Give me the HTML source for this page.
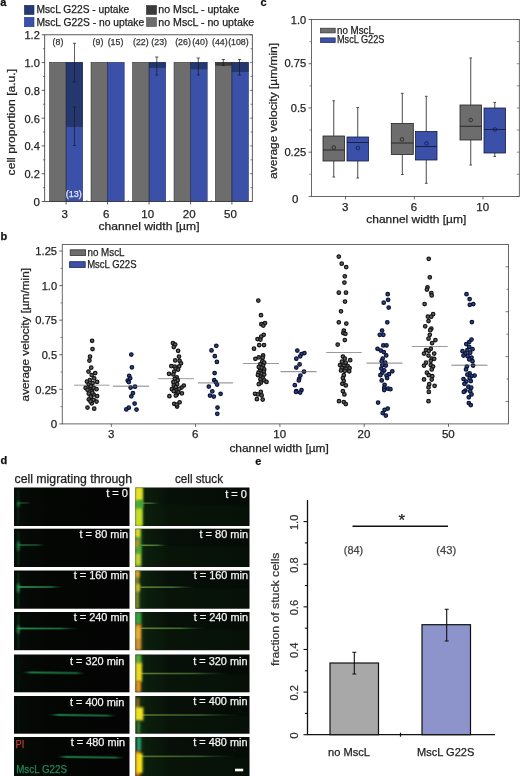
<!DOCTYPE html>
<html><head><meta charset="utf-8"><title>Figure</title>
<style>html,body{margin:0;padding:0;background:#fff;}svg{display:block;}text{font-family:"Liberation Sans",sans-serif;stroke-width:0.25px;}</style>
</head><body>
<svg width="520" height="776" viewBox="0 0 520 776">
<rect width="520" height="776" fill="#fff"/>
<defs>
<filter id="b1" x="-20%" y="-200%" width="140%" height="500%"><feGaussianBlur stdDeviation="1.2 0.7"/></filter>
<filter id="b2" x="-50%" y="-50%" width="200%" height="200%"><feGaussianBlur stdDeviation="1.3"/></filter>
<filter id="b3" x="-50%" y="-50%" width="200%" height="200%"><feGaussianBlur stdDeviation="3"/></filter>
<linearGradient id="gfade" x1="0" x2="1" y1="0" y2="0"><stop offset="0" stop-color="#2fae62"/><stop offset="0.7" stop-color="#1f7f47"/><stop offset="1" stop-color="#0c3a1e" stop-opacity="0"/></linearGradient>
<linearGradient id="gfade2" x1="0" x2="1" y1="0" y2="0"><stop offset="0" stop-color="#0c3a1e" stop-opacity="0"/><stop offset="0.15" stop-color="#27a25a"/><stop offset="0.85" stop-color="#1f8a4c"/><stop offset="1" stop-color="#0c3a1e" stop-opacity="0"/></linearGradient>
<linearGradient id="rbg" x1="0" x2="1" y1="0" y2="0"><stop offset="0" stop-color="#123012"/><stop offset="0.1" stop-color="#0b1c0c"/><stop offset="0.3" stop-color="#071008"/><stop offset="1" stop-color="#050b06"/></linearGradient>
<linearGradient id="lbg" x1="0" x2="1" y1="0" y2="0"><stop offset="0" stop-color="#060c07"/><stop offset="0.3" stop-color="#040604"/><stop offset="1" stop-color="#030403"/></linearGradient>
<linearGradient id="rfade" x1="0" x2="1" y1="0" y2="0"><stop offset="0" stop-color="#9ab848"/><stop offset="0.6" stop-color="#5a9a48"/><stop offset="1" stop-color="#1a4a20" stop-opacity="0"/></linearGradient>
<filter id="b4" x="-50%" y="-50%" width="200%" height="200%"><feGaussianBlur stdDeviation="0.9"/></filter>
</defs>
<g id="panelA">
<text x="0.2" y="5.9" font-size="11" text-anchor="start" fill="#111" stroke="#111" font-weight="bold" >a</text>
<rect x="24.4" y="5.3" width="9.6" height="9.2" fill="#263a78" stroke="#1b2a5c" stroke-width="0.6"/>
<rect x="24.4" y="17.4" width="9.6" height="9.3" fill="#3a50ae" stroke="#24357a" stroke-width="0.6"/>
<text x="36.5" y="13.2" font-size="10" text-anchor="start" fill="#222" stroke="#222" font-weight="normal"  textLength="92.7" lengthAdjust="spacingAndGlyphs">MscL G22S - uptake</text>
<text x="36.5" y="25.5" font-size="10" text-anchor="start" fill="#222" stroke="#222" font-weight="normal"  textLength="107.7" lengthAdjust="spacingAndGlyphs">MscL G22S - no uptake</text>
<rect x="146.5" y="5.5" width="10" height="8.9" fill="#3a3a3a" stroke="#2a2a2a" stroke-width="0.6"/>
<rect x="146.5" y="17.6" width="10" height="9" fill="#6c6c6c" stroke="#505050" stroke-width="0.6"/>
<text x="158.3" y="13.2" font-size="10" text-anchor="start" fill="#222" stroke="#222" font-weight="normal"  textLength="81" lengthAdjust="spacingAndGlyphs">no MscL - uptake</text>
<text x="158.3" y="25.5" font-size="10" text-anchor="start" fill="#222" stroke="#222" font-weight="normal"  textLength="95.8" lengthAdjust="spacingAndGlyphs">no MscL - no uptake</text>
<rect x="49.5" y="62.30" width="16.6" height="139.20" fill="#6d6d6d"/>
<rect x="66.1" y="62.30" width="16.6" height="139.20" fill="#3b51a9"/>
<rect x="66.1" y="62.30" width="16.6" height="64.73" fill="#24386f"/>
<rect x="49.5" y="62.30" width="16.6" height="139.20" fill="none" stroke="#2a2a2a" stroke-width="0.5"/>
<rect x="66.1" y="62.30" width="16.6" height="139.20" fill="none" stroke="#1c2548" stroke-width="0.5"/>
<rect x="91" y="62.30" width="16.6" height="139.20" fill="#6d6d6d"/>
<rect x="107.6" y="62.30" width="16.6" height="139.20" fill="#3b51a9"/>
<rect x="91" y="62.30" width="16.6" height="139.20" fill="none" stroke="#2a2a2a" stroke-width="0.5"/>
<rect x="107.6" y="62.30" width="16.6" height="139.20" fill="none" stroke="#1c2548" stroke-width="0.5"/>
<rect x="132.5" y="62.30" width="16.6" height="139.20" fill="#6d6d6d"/>
<rect x="149.1" y="62.30" width="16.6" height="139.20" fill="#3b51a9"/>
<rect x="149.1" y="62.30" width="16.6" height="5.57" fill="#24386f"/>
<rect x="132.5" y="62.30" width="16.6" height="139.20" fill="none" stroke="#2a2a2a" stroke-width="0.5"/>
<rect x="149.1" y="62.30" width="16.6" height="139.20" fill="none" stroke="#1c2548" stroke-width="0.5"/>
<rect x="174" y="62.30" width="16.6" height="139.20" fill="#6d6d6d"/>
<rect x="190.6" y="62.30" width="16.6" height="139.20" fill="#3b51a9"/>
<rect x="190.6" y="62.30" width="16.6" height="6.96" fill="#24386f"/>
<rect x="174" y="62.30" width="16.6" height="139.20" fill="none" stroke="#2a2a2a" stroke-width="0.5"/>
<rect x="190.6" y="62.30" width="16.6" height="139.20" fill="none" stroke="#1c2548" stroke-width="0.5"/>
<rect x="215.3" y="62.30" width="16.6" height="139.20" fill="#6d6d6d"/>
<rect x="215.3" y="62.30" width="16.6" height="3.48" fill="#3b3b3b"/>
<rect x="231.9" y="62.30" width="16.6" height="139.20" fill="#3b51a9"/>
<rect x="231.9" y="62.30" width="16.6" height="9.74" fill="#24386f"/>
<rect x="215.3" y="62.30" width="16.6" height="139.20" fill="none" stroke="#2a2a2a" stroke-width="0.5"/>
<rect x="231.9" y="62.30" width="16.6" height="139.20" fill="none" stroke="#1c2548" stroke-width="0.5"/>
<path d="M74.5 43.3V82M72.9 43.3H76.1M72.9 82H76.1" stroke="#1a1a1a" stroke-width="0.7" fill="none"/>
<path d="M74.5 107V145.5M72.9 107H76.1M72.9 145.5H76.1" stroke="#1a1a1a" stroke-width="0.7" fill="none"/>
<path d="M156.8 57V75M155.20000000000002 57H158.4M155.20000000000002 75H158.4" stroke="#1a1a1a" stroke-width="0.7" fill="none"/>
<path d="M198.3 58V75M196.70000000000002 58H199.9M196.70000000000002 75H199.9" stroke="#1a1a1a" stroke-width="0.7" fill="none"/>
<path d="M223.3 59.5V65.5M221.70000000000002 59.5H224.9M221.70000000000002 65.5H224.9" stroke="#1a1a1a" stroke-width="0.7" fill="none"/>
<path d="M239.5 59.5V75M237.9 59.5H241.1M237.9 75H241.1" stroke="#1a1a1a" stroke-width="0.7" fill="none"/>
<rect x="44.7" y="34.8" width="207.60000000000002" height="166.7" fill="none" stroke="#333" stroke-width="0.8"/>
<path d="M41.7 201.50H44.7" stroke="#333" stroke-width="0.8"/>
<path d="M249.8 201.50H252.3" stroke="#333" stroke-width="0.6"/>
<text x="33.4" y="205.9" font-size="11.6" text-anchor="start" fill="#222" stroke="#222" font-weight="normal"  textLength="6.4" lengthAdjust="spacingAndGlyphs">0</text>
<path d="M41.7 173.72H44.7" stroke="#333" stroke-width="0.8"/>
<path d="M249.8 173.72H252.3" stroke="#333" stroke-width="0.6"/>
<text x="24.4" y="178.12" font-size="11.6" text-anchor="start" fill="#222" stroke="#222" font-weight="normal"  textLength="15.4" lengthAdjust="spacingAndGlyphs">0.2</text>
<path d="M41.7 145.93H44.7" stroke="#333" stroke-width="0.8"/>
<path d="M249.8 145.93H252.3" stroke="#333" stroke-width="0.6"/>
<text x="24.4" y="150.33" font-size="11.6" text-anchor="start" fill="#222" stroke="#222" font-weight="normal"  textLength="15.4" lengthAdjust="spacingAndGlyphs">0.4</text>
<path d="M41.7 118.15H44.7" stroke="#333" stroke-width="0.8"/>
<path d="M249.8 118.15H252.3" stroke="#333" stroke-width="0.6"/>
<text x="24.4" y="122.55" font-size="11.6" text-anchor="start" fill="#222" stroke="#222" font-weight="normal"  textLength="15.4" lengthAdjust="spacingAndGlyphs">0.6</text>
<path d="M41.7 90.37H44.7" stroke="#333" stroke-width="0.8"/>
<path d="M249.8 90.37H252.3" stroke="#333" stroke-width="0.6"/>
<text x="24.4" y="94.77" font-size="11.6" text-anchor="start" fill="#222" stroke="#222" font-weight="normal"  textLength="15.4" lengthAdjust="spacingAndGlyphs">0.8</text>
<path d="M41.7 62.58H44.7" stroke="#333" stroke-width="0.8"/>
<path d="M249.8 62.58H252.3" stroke="#333" stroke-width="0.6"/>
<text x="24.4" y="66.98" font-size="11.6" text-anchor="start" fill="#222" stroke="#222" font-weight="normal"  textLength="15.4" lengthAdjust="spacingAndGlyphs">1.0</text>
<path d="M41.7 34.80H44.7" stroke="#333" stroke-width="0.8"/>
<path d="M249.8 34.80H252.3" stroke="#333" stroke-width="0.6"/>
<text x="24.4" y="39.2" font-size="11.6" text-anchor="start" fill="#222" stroke="#222" font-weight="normal"  textLength="15.4" lengthAdjust="spacingAndGlyphs">1.2</text>
<path d="M42.900000000000006 187.61H44.7" stroke="#333" stroke-width="0.6"/>
<path d="M250.5 187.61H252.3" stroke="#333" stroke-width="0.6"/>
<path d="M42.900000000000006 159.82H44.7" stroke="#333" stroke-width="0.6"/>
<path d="M250.5 159.82H252.3" stroke="#333" stroke-width="0.6"/>
<path d="M42.900000000000006 132.04H44.7" stroke="#333" stroke-width="0.6"/>
<path d="M250.5 132.04H252.3" stroke="#333" stroke-width="0.6"/>
<path d="M42.900000000000006 104.26H44.7" stroke="#333" stroke-width="0.6"/>
<path d="M250.5 104.26H252.3" stroke="#333" stroke-width="0.6"/>
<path d="M42.900000000000006 76.47H44.7" stroke="#333" stroke-width="0.6"/>
<path d="M250.5 76.47H252.3" stroke="#333" stroke-width="0.6"/>
<path d="M42.900000000000006 48.69H44.7" stroke="#333" stroke-width="0.6"/>
<path d="M250.5 48.69H252.3" stroke="#333" stroke-width="0.6"/>
<path d="M66.1 201.5v3" stroke="#333" stroke-width="0.8"/>
<text x="61.5" y="218" font-size="11.6" text-anchor="start" fill="#222" stroke="#222" font-weight="normal"  textLength="6.4" lengthAdjust="spacingAndGlyphs">3</text>
<path d="M86.8 201.5v-1.5" stroke="#333" stroke-width="0.6"/>
<path d="M107.6 201.5v3" stroke="#333" stroke-width="0.8"/>
<text x="103.0" y="218" font-size="11.6" text-anchor="start" fill="#222" stroke="#222" font-weight="normal"  textLength="6.4" lengthAdjust="spacingAndGlyphs">6</text>
<path d="M128.3 201.5v-1.5" stroke="#333" stroke-width="0.6"/>
<path d="M149.1 201.5v3" stroke="#333" stroke-width="0.8"/>
<text x="141.3" y="218" font-size="11.6" text-anchor="start" fill="#222" stroke="#222" font-weight="normal"  textLength="12.8" lengthAdjust="spacingAndGlyphs">10</text>
<path d="M169.8 201.5v-1.5" stroke="#333" stroke-width="0.6"/>
<path d="M190.6 201.5v3" stroke="#333" stroke-width="0.8"/>
<text x="182.8" y="218" font-size="11.6" text-anchor="start" fill="#222" stroke="#222" font-weight="normal"  textLength="12.8" lengthAdjust="spacingAndGlyphs">20</text>
<path d="M211.3 201.5v-1.5" stroke="#333" stroke-width="0.6"/>
<path d="M231.9 201.5v3" stroke="#333" stroke-width="0.8"/>
<text x="224.1" y="218" font-size="11.6" text-anchor="start" fill="#222" stroke="#222" font-weight="normal"  textLength="12.8" lengthAdjust="spacingAndGlyphs">50</text>
<text x="58" y="45.1" font-size="8.8" text-anchor="middle" fill="#333" stroke="#333" font-weight="normal" >(8)</text>
<text x="98" y="45.1" font-size="8.8" text-anchor="middle" fill="#333" stroke="#333" font-weight="normal" >(9)</text>
<text x="115.5" y="45.1" font-size="8.8" text-anchor="middle" fill="#333" stroke="#333" font-weight="normal" >(15)</text>
<text x="140.8" y="45.1" font-size="8.8" text-anchor="middle" fill="#333" stroke="#333" font-weight="normal" >(22)</text>
<text x="159.2" y="45.1" font-size="8.8" text-anchor="middle" fill="#333" stroke="#333" font-weight="normal" >(23)</text>
<text x="183" y="45.1" font-size="8.8" text-anchor="middle" fill="#333" stroke="#333" font-weight="normal" >(26)</text>
<text x="200" y="45.1" font-size="8.8" text-anchor="middle" fill="#333" stroke="#333" font-weight="normal" >(40)</text>
<text x="219.8" y="45.1" font-size="8.8" text-anchor="middle" fill="#333" stroke="#333" font-weight="normal" >(44)</text>
<text x="238.4" y="45.1" font-size="8.8" text-anchor="middle" fill="#333" stroke="#333" font-weight="normal" >(108)</text>
<text x="73.8" y="196.5" font-size="9" text-anchor="middle" fill="#e8ecf8" stroke="#e8ecf8" font-weight="normal" >(13)</text>
<text font-size="11.4" fill="#222" stroke="#222" textLength="106.5" lengthAdjust="spacingAndGlyphs" transform="translate(15.3 175.4) rotate(-90)">cell proportion [a.u.]</text>
<text x="98.5" y="230.2" font-size="11.5" text-anchor="start" fill="#222" stroke="#222" font-weight="normal"  textLength="101" lengthAdjust="spacingAndGlyphs">channel width [µm]</text>
</g>
<g id="panelC">
<text x="260.5" y="6.3" font-size="11" text-anchor="start" fill="#111" stroke="#111" font-weight="bold" >c</text>
<rect x="311.5" y="19.5" width="207.79999999999995" height="176.9" fill="none" stroke="#444" stroke-width="0.8"/>
<path d="M308.5 196.40H311.5" stroke="#444" stroke-width="0.8"/>
<text x="291.9" y="202.9" font-size="11.6" text-anchor="start" fill="#222" stroke="#222" font-weight="normal"  textLength="6.4" lengthAdjust="spacingAndGlyphs">0</text>
<path d="M308.5 152.18H311.5" stroke="#444" stroke-width="0.8"/>
<text x="284.4" y="156.2" font-size="11.6" text-anchor="start" fill="#222" stroke="#222" font-weight="normal"  textLength="21.8" lengthAdjust="spacingAndGlyphs">0.25</text>
<path d="M308.5 107.95H311.5" stroke="#444" stroke-width="0.8"/>
<text x="290.8" y="112.4" font-size="11.6" text-anchor="start" fill="#222" stroke="#222" font-weight="normal"  textLength="15.4" lengthAdjust="spacingAndGlyphs">0.5</text>
<path d="M308.5 63.72H311.5" stroke="#444" stroke-width="0.8"/>
<text x="284.4" y="66.6" font-size="11.6" text-anchor="start" fill="#222" stroke="#222" font-weight="normal"  textLength="21.8" lengthAdjust="spacingAndGlyphs">0.75</text>
<path d="M308.5 19.50H311.5" stroke="#444" stroke-width="0.8"/>
<text x="290.8" y="23.75" font-size="11.6" text-anchor="start" fill="#222" stroke="#222" font-weight="normal"  textLength="15.4" lengthAdjust="spacingAndGlyphs">1.0</text>
<path d="M516.8 196.40H519.3" stroke="#444" stroke-width="0.6"/>
<path d="M516.8 174.29H519.3" stroke="#444" stroke-width="0.6"/>
<path d="M311.5 174.29h-2" stroke="#444" stroke-width="0.6"/>
<path d="M516.8 152.18H519.3" stroke="#444" stroke-width="0.6"/>
<path d="M516.8 130.06H519.3" stroke="#444" stroke-width="0.6"/>
<path d="M311.5 130.06h-2" stroke="#444" stroke-width="0.6"/>
<path d="M516.8 107.95H519.3" stroke="#444" stroke-width="0.6"/>
<path d="M516.8 85.84H519.3" stroke="#444" stroke-width="0.6"/>
<path d="M311.5 85.84h-2" stroke="#444" stroke-width="0.6"/>
<path d="M516.8 63.72H519.3" stroke="#444" stroke-width="0.6"/>
<path d="M516.8 41.61H519.3" stroke="#444" stroke-width="0.6"/>
<path d="M311.5 41.61h-2" stroke="#444" stroke-width="0.6"/>
<path d="M516.8 19.50H519.3" stroke="#444" stroke-width="0.6"/>
<rect x="320.6" y="28.2" width="14.6" height="4.7" fill="#6d6d6d" stroke="#333" stroke-width="0.7"/>
<rect x="320.6" y="37.9" width="14.6" height="4.7" fill="#3b51a9" stroke="#1c2548" stroke-width="0.7"/>
<text x="337" y="33.8" font-size="10" text-anchor="start" fill="#222" stroke="#222" font-weight="normal"  textLength="36.8" lengthAdjust="spacingAndGlyphs">no MscL</text>
<text x="337" y="43" font-size="10" text-anchor="start" fill="#222" stroke="#222" font-weight="normal"  textLength="47.3" lengthAdjust="spacingAndGlyphs">MscL G22S</text>
<path d="M333.75 100.8V136M333.75 161V177M332.45 100.8h2.6M332.45 177h2.6" stroke="#4a4a4a" stroke-width="1" fill="none"/>
<rect x="323" y="136" width="21.5" height="25" fill="#6d6d6d" stroke="#222" stroke-width="0.8"/>
<path d="M323 150H344.5" stroke="#222" stroke-width="0.9"/>
<rect x="332.2" y="145.9" width="3.2" height="3.2" rx="0.8" fill="none" stroke="#222" stroke-width="0.8"/>
<path d="M357.75 107.5V137M357.75 161V178M356.45 107.5h2.6M356.45 178h2.6" stroke="#4a4a4a" stroke-width="1" fill="none"/>
<rect x="347" y="137" width="21.5" height="24" fill="#3b51a9" stroke="#141c3c" stroke-width="0.8"/>
<path d="M347 142.5H368.5" stroke="#141c3c" stroke-width="0.9"/>
<rect x="356.4" y="146.4" width="3.2" height="3.2" rx="0.8" fill="none" stroke="#141c3c" stroke-width="0.8"/>
<path d="M402.3 93.3V123.5M402.3 154.5V174.5M401.0 93.3h2.6M401.0 174.5h2.6" stroke="#4a4a4a" stroke-width="1" fill="none"/>
<rect x="391.3" y="123.5" width="22.0" height="31.0" fill="#6d6d6d" stroke="#222" stroke-width="0.8"/>
<path d="M391.3 143H413.3" stroke="#222" stroke-width="0.9"/>
<rect x="400.4" y="137.7" width="3.2" height="3.2" rx="0.8" fill="none" stroke="#222" stroke-width="0.8"/>
<path d="M426.25 96.3V131.5M426.25 160V183.3M424.95 96.3h2.6M424.95 183.3h2.6" stroke="#4a4a4a" stroke-width="1" fill="none"/>
<rect x="415.5" y="131.5" width="21.5" height="28.5" fill="#3b51a9" stroke="#141c3c" stroke-width="0.8"/>
<path d="M415.5 146.5H437" stroke="#141c3c" stroke-width="0.9"/>
<rect x="424.9" y="141.9" width="3.2" height="3.2" rx="0.8" fill="none" stroke="#141c3c" stroke-width="0.8"/>
<path d="M470.75 58V105M470.75 140V165M469.45 58h2.6M469.45 165h2.6" stroke="#4a4a4a" stroke-width="1" fill="none"/>
<rect x="460" y="105" width="21.5" height="35" fill="#6d6d6d" stroke="#222" stroke-width="0.8"/>
<path d="M460 126.3H481.5" stroke="#222" stroke-width="0.9"/>
<rect x="469.2" y="118.4" width="3.2" height="3.2" rx="0.8" fill="none" stroke="#222" stroke-width="0.8"/>
<path d="M494.75 102.5V108M494.75 153V156.5M493.45 102.5h2.6M493.45 156.5h2.6" stroke="#4a4a4a" stroke-width="1" fill="none"/>
<rect x="484" y="108" width="21.5" height="45" fill="#3b51a9" stroke="#141c3c" stroke-width="0.8"/>
<path d="M484 129.5H505.5" stroke="#141c3c" stroke-width="0.9"/>
<rect x="493.4" y="127.9" width="3.2" height="3.2" rx="0.8" fill="none" stroke="#141c3c" stroke-width="0.8"/>
<path d="M345.5 196.4v3" stroke="#444" stroke-width="0.8"/>
<text x="342.0" y="211" font-size="11.6" text-anchor="start" fill="#222" stroke="#222" font-weight="normal"  textLength="6.4" lengthAdjust="spacingAndGlyphs">3</text>
<path d="M414.3 196.4v3" stroke="#444" stroke-width="0.8"/>
<text x="410.8" y="211" font-size="11.6" text-anchor="start" fill="#222" stroke="#222" font-weight="normal"  textLength="6.4" lengthAdjust="spacingAndGlyphs">6</text>
<path d="M483 196.4v3" stroke="#444" stroke-width="0.8"/>
<text x="476.3" y="211" font-size="11.6" text-anchor="start" fill="#222" stroke="#222" font-weight="normal"  textLength="12.8" lengthAdjust="spacingAndGlyphs">10</text>
<text x="366.3" y="222.5" font-size="11.5" text-anchor="start" fill="#222" stroke="#222" font-weight="normal"  textLength="100" lengthAdjust="spacingAndGlyphs">channel width [µm]</text>
<text font-size="11.4" fill="#222" stroke="#222" textLength="136" lengthAdjust="spacingAndGlyphs" transform="translate(277.4 178.9) rotate(-90)">average velocity [µm/min]</text>
</g>
<g id="panelB">
<text x="0.5" y="239.8" font-size="11" text-anchor="start" fill="#111" stroke="#111" font-weight="bold" >b</text>
<rect x="62.25" y="244.4" width="446.25" height="179.49999999999997" fill="none" stroke="#444" stroke-width="0.8"/>
<path d="M59.25 423.90H62.25" stroke="#444" stroke-width="0.8"/>
<text x="50.7" y="428.2" font-size="11.6" text-anchor="start" fill="#222" stroke="#222" font-weight="normal"  textLength="6.4" lengthAdjust="spacingAndGlyphs">0</text>
<path d="M59.25 389.32H62.25" stroke="#444" stroke-width="0.8"/>
<text x="35.3" y="393.62" font-size="11.6" text-anchor="start" fill="#222" stroke="#222" font-weight="normal"  textLength="21.8" lengthAdjust="spacingAndGlyphs">0.25</text>
<path d="M59.25 354.74H62.25" stroke="#444" stroke-width="0.8"/>
<text x="41.7" y="359.04" font-size="11.6" text-anchor="start" fill="#222" stroke="#222" font-weight="normal"  textLength="15.4" lengthAdjust="spacingAndGlyphs">0.5</text>
<path d="M59.25 320.16H62.25" stroke="#444" stroke-width="0.8"/>
<text x="35.3" y="324.46" font-size="11.6" text-anchor="start" fill="#222" stroke="#222" font-weight="normal"  textLength="21.8" lengthAdjust="spacingAndGlyphs">0.75</text>
<path d="M59.25 285.58H62.25" stroke="#444" stroke-width="0.8"/>
<text x="41.7" y="289.88" font-size="11.6" text-anchor="start" fill="#222" stroke="#222" font-weight="normal"  textLength="15.4" lengthAdjust="spacingAndGlyphs">1.0</text>
<path d="M59.25 251.00H62.25" stroke="#444" stroke-width="0.8"/>
<text x="35.3" y="255.3" font-size="11.6" text-anchor="start" fill="#222" stroke="#222" font-weight="normal"  textLength="21.8" lengthAdjust="spacingAndGlyphs">1.25</text>
<path d="M505.5 266.84H508.5" stroke="#444" stroke-width="0.7"/>
<path d="M506.5 289.27H508.5" stroke="#444" stroke-width="0.7"/>
<path d="M505.5 311.71H508.5" stroke="#444" stroke-width="0.7"/>
<path d="M506.5 334.15H508.5" stroke="#444" stroke-width="0.7"/>
<path d="M505.5 356.59H508.5" stroke="#444" stroke-width="0.7"/>
<path d="M506.5 379.02H508.5" stroke="#444" stroke-width="0.7"/>
<path d="M505.5 401.46H508.5" stroke="#444" stroke-width="0.7"/>
<path d="M62.25 406.61h-1.8" stroke="#444" stroke-width="0.6"/>
<path d="M62.25 372.03h-1.8" stroke="#444" stroke-width="0.6"/>
<path d="M62.25 337.45h-1.8" stroke="#444" stroke-width="0.6"/>
<path d="M62.25 302.87h-1.8" stroke="#444" stroke-width="0.6"/>
<path d="M62.25 268.29h-1.8" stroke="#444" stroke-width="0.6"/>
<rect x="70.2" y="249.8" width="15.4" height="5.7" fill="#6d6d6d" stroke="#333" stroke-width="0.8"/>
<rect x="69.6" y="261.7" width="15.6" height="5.7" fill="#3b51a9" stroke="#1c2548" stroke-width="0.8"/>
<text x="87.5" y="255.5" font-size="10" text-anchor="start" fill="#222" stroke="#222" font-weight="normal"  textLength="37" lengthAdjust="spacingAndGlyphs">no MscL</text>
<text x="87.2" y="267.6" font-size="10" text-anchor="start" fill="#222" stroke="#222" font-weight="normal"  textLength="49.3" lengthAdjust="spacingAndGlyphs">MscL G22S</text>
<path d="M111.3 423.9v3" stroke="#444" stroke-width="0.8"/>
<text x="107.9" y="438" font-size="11.6" text-anchor="start" fill="#222" stroke="#222" font-weight="normal"  textLength="6.4" lengthAdjust="spacingAndGlyphs">3</text>
<path d="M195.5 423.9v3" stroke="#444" stroke-width="0.8"/>
<text x="192.1" y="438" font-size="11.6" text-anchor="start" fill="#222" stroke="#222" font-weight="normal"  textLength="6.4" lengthAdjust="spacingAndGlyphs">6</text>
<path d="M279.9 423.9v3" stroke="#444" stroke-width="0.8"/>
<text x="273.3" y="438" font-size="11.6" text-anchor="start" fill="#222" stroke="#222" font-weight="normal"  textLength="12.8" lengthAdjust="spacingAndGlyphs">10</text>
<path d="M364.2 423.9v3" stroke="#444" stroke-width="0.8"/>
<text x="357.6" y="438" font-size="11.6" text-anchor="start" fill="#222" stroke="#222" font-weight="normal"  textLength="12.8" lengthAdjust="spacingAndGlyphs">20</text>
<path d="M448.5 423.9v3" stroke="#444" stroke-width="0.8"/>
<text x="441.9" y="438" font-size="11.6" text-anchor="start" fill="#222" stroke="#222" font-weight="normal"  textLength="12.8" lengthAdjust="spacingAndGlyphs">50</text>
<text x="229.4" y="451.8" font-size="11.5" text-anchor="start" fill="#222" stroke="#222" font-weight="normal"  textLength="99.4" lengthAdjust="spacingAndGlyphs">channel width [µm]</text>
<text font-size="11.4" fill="#222" stroke="#222" textLength="133.4" lengthAdjust="spacingAndGlyphs" transform="translate(29.2 401.4) rotate(-90)">average velocity [µm/min]</text>
<path d="M74.0 385.2H109.5" stroke="#8e8e8e" stroke-width="0.9"/>
<path d="M158.1 378.7H194.0" stroke="#8e8e8e" stroke-width="0.9"/>
<path d="M243.1 363.5H279.0" stroke="#8e8e8e" stroke-width="0.9"/>
<path d="M326.2 352.5H361.7" stroke="#8e8e8e" stroke-width="0.9"/>
<path d="M411.9 346.5H447.7" stroke="#8e8e8e" stroke-width="0.9"/>
<g fill="#636363" stroke="#161616" stroke-width="1.25">
<circle cx="92.1" cy="340.8" r="1.75"/>
<circle cx="92.5" cy="349.0" r="1.75"/>
<circle cx="90.0" cy="356.7" r="1.75"/>
<circle cx="89.4" cy="360.6" r="1.75"/>
<circle cx="91.2" cy="367.7" r="1.75"/>
<circle cx="88.5" cy="371.5" r="1.75"/>
<circle cx="95.2" cy="373.1" r="1.75"/>
<circle cx="91.7" cy="375.0" r="1.75"/>
<circle cx="94.2" cy="378.3" r="1.75"/>
<circle cx="89.8" cy="380.2" r="1.75"/>
<circle cx="86.9" cy="381.5" r="1.75"/>
<circle cx="97.1" cy="381.9" r="1.75"/>
<circle cx="92.7" cy="383.1" r="1.75"/>
<circle cx="88.8" cy="384.6" r="1.75"/>
<circle cx="85.6" cy="387.9" r="1.75"/>
<circle cx="89.8" cy="387.9" r="1.75"/>
<circle cx="93.7" cy="387.9" r="1.75"/>
<circle cx="96.5" cy="389.2" r="1.75"/>
<circle cx="87.5" cy="389.8" r="1.75"/>
<circle cx="91.7" cy="390.8" r="1.75"/>
<circle cx="88.8" cy="393.7" r="1.75"/>
<circle cx="93.7" cy="394.6" r="1.75"/>
<circle cx="97.1" cy="396.0" r="1.75"/>
<circle cx="90.8" cy="396.9" r="1.75"/>
<circle cx="88.8" cy="399.4" r="1.75"/>
<circle cx="93.7" cy="399.8" r="1.75"/>
<circle cx="96.5" cy="401.5" r="1.75"/>
<circle cx="91.7" cy="403.3" r="1.75"/>
<circle cx="87.5" cy="407.5" r="1.75"/>
<circle cx="94.2" cy="408.7" r="1.75"/>
<circle cx="90.8" cy="386.0" r="1.75"/>
<circle cx="92.3" cy="392.7" r="1.75"/>
<circle cx="90.4" cy="401.3" r="1.75"/>
<circle cx="172.9" cy="343.1" r="1.75"/>
<circle cx="175.2" cy="344.6" r="1.75"/>
<circle cx="173.8" cy="347.1" r="1.75"/>
<circle cx="178.1" cy="350.8" r="1.75"/>
<circle cx="179.0" cy="356.5" r="1.75"/>
<circle cx="175.2" cy="360.4" r="1.75"/>
<circle cx="179.6" cy="360.8" r="1.75"/>
<circle cx="181.0" cy="363.3" r="1.75"/>
<circle cx="171.3" cy="366.0" r="1.75"/>
<circle cx="174.8" cy="366.7" r="1.75"/>
<circle cx="179.2" cy="366.3" r="1.75"/>
<circle cx="175.8" cy="368.7" r="1.75"/>
<circle cx="178.1" cy="369.6" r="1.75"/>
<circle cx="174.2" cy="371.5" r="1.75"/>
<circle cx="169.0" cy="373.8" r="1.75"/>
<circle cx="173.3" cy="374.4" r="1.75"/>
<circle cx="176.7" cy="377.3" r="1.75"/>
<circle cx="174.8" cy="378.8" r="1.75"/>
<circle cx="177.7" cy="380.2" r="1.75"/>
<circle cx="173.3" cy="382.1" r="1.75"/>
<circle cx="177.1" cy="384.0" r="1.75"/>
<circle cx="173.8" cy="385.4" r="1.75"/>
<circle cx="183.8" cy="385.6" r="1.75"/>
<circle cx="175.8" cy="386.9" r="1.75"/>
<circle cx="181.5" cy="387.5" r="1.75"/>
<circle cx="179.2" cy="388.8" r="1.75"/>
<circle cx="171.9" cy="389.2" r="1.75"/>
<circle cx="175.8" cy="390.4" r="1.75"/>
<circle cx="173.8" cy="391.2" r="1.75"/>
<circle cx="178.1" cy="392.3" r="1.75"/>
<circle cx="181.9" cy="393.3" r="1.75"/>
<circle cx="176.7" cy="394.6" r="1.75"/>
<circle cx="169.4" cy="396.2" r="1.75"/>
<circle cx="175.8" cy="395.6" r="1.75"/>
<circle cx="179.6" cy="402.3" r="1.75"/>
<circle cx="174.2" cy="403.8" r="1.75"/>
<circle cx="177.1" cy="406.5" r="1.75"/>
<circle cx="176.7" cy="404.6" r="1.75"/>
<circle cx="258.3" cy="300.6" r="1.75"/>
<circle cx="261.0" cy="315.2" r="1.75"/>
<circle cx="265.0" cy="323.1" r="1.75"/>
<circle cx="261.3" cy="324.2" r="1.75"/>
<circle cx="263.3" cy="325.6" r="1.75"/>
<circle cx="263.7" cy="334.8" r="1.75"/>
<circle cx="261.2" cy="336.7" r="1.75"/>
<circle cx="257.5" cy="339.0" r="1.75"/>
<circle cx="260.4" cy="339.6" r="1.75"/>
<circle cx="259.2" cy="345.2" r="1.75"/>
<circle cx="264.0" cy="345.0" r="1.75"/>
<circle cx="254.0" cy="348.7" r="1.75"/>
<circle cx="263.1" cy="355.4" r="1.75"/>
<circle cx="258.8" cy="357.3" r="1.75"/>
<circle cx="262.7" cy="357.7" r="1.75"/>
<circle cx="255.4" cy="358.8" r="1.75"/>
<circle cx="262.3" cy="361.2" r="1.75"/>
<circle cx="264.2" cy="362.7" r="1.75"/>
<circle cx="260.4" cy="364.0" r="1.75"/>
<circle cx="263.1" cy="365.6" r="1.75"/>
<circle cx="258.8" cy="366.9" r="1.75"/>
<circle cx="261.7" cy="367.9" r="1.75"/>
<circle cx="264.2" cy="369.4" r="1.75"/>
<circle cx="259.8" cy="370.8" r="1.75"/>
<circle cx="263.7" cy="371.7" r="1.75"/>
<circle cx="258.5" cy="372.7" r="1.75"/>
<circle cx="261.7" cy="373.7" r="1.75"/>
<circle cx="264.2" cy="374.6" r="1.75"/>
<circle cx="257.9" cy="375.0" r="1.75"/>
<circle cx="260.8" cy="376.5" r="1.75"/>
<circle cx="262.7" cy="377.9" r="1.75"/>
<circle cx="260.4" cy="379.4" r="1.75"/>
<circle cx="264.2" cy="380.4" r="1.75"/>
<circle cx="266.5" cy="381.9" r="1.75"/>
<circle cx="260.8" cy="382.7" r="1.75"/>
<circle cx="258.8" cy="384.2" r="1.75"/>
<circle cx="260.8" cy="391.9" r="1.75"/>
<circle cx="255.0" cy="393.8" r="1.75"/>
<circle cx="257.9" cy="394.4" r="1.75"/>
<circle cx="261.7" cy="395.4" r="1.75"/>
<circle cx="256.9" cy="399.2" r="1.75"/>
<circle cx="262.7" cy="399.6" r="1.75"/>
<circle cx="338.8" cy="256.5" r="1.75"/>
<circle cx="341.7" cy="263.7" r="1.75"/>
<circle cx="346.2" cy="267.1" r="1.75"/>
<circle cx="344.8" cy="276.3" r="1.75"/>
<circle cx="344.4" cy="282.5" r="1.75"/>
<circle cx="338.8" cy="292.7" r="1.75"/>
<circle cx="346.0" cy="292.7" r="1.75"/>
<circle cx="345.0" cy="301.5" r="1.75"/>
<circle cx="341.0" cy="311.3" r="1.75"/>
<circle cx="338.8" cy="322.3" r="1.75"/>
<circle cx="346.3" cy="323.5" r="1.75"/>
<circle cx="343.8" cy="330.6" r="1.75"/>
<circle cx="343.3" cy="333.1" r="1.75"/>
<circle cx="345.4" cy="333.8" r="1.75"/>
<circle cx="344.8" cy="340.0" r="1.75"/>
<circle cx="337.7" cy="344.6" r="1.75"/>
<circle cx="342.9" cy="356.5" r="1.75"/>
<circle cx="344.8" cy="358.5" r="1.75"/>
<circle cx="350.2" cy="360.2" r="1.75"/>
<circle cx="341.9" cy="361.7" r="1.75"/>
<circle cx="345.8" cy="362.7" r="1.75"/>
<circle cx="340.0" cy="365.0" r="1.75"/>
<circle cx="343.8" cy="365.6" r="1.75"/>
<circle cx="347.7" cy="366.2" r="1.75"/>
<circle cx="341.9" cy="367.9" r="1.75"/>
<circle cx="345.8" cy="368.5" r="1.75"/>
<circle cx="349.6" cy="368.1" r="1.75"/>
<circle cx="341.0" cy="370.4" r="1.75"/>
<circle cx="344.8" cy="370.8" r="1.75"/>
<circle cx="349.2" cy="371.3" r="1.75"/>
<circle cx="343.8" cy="375.2" r="1.75"/>
<circle cx="342.9" cy="378.1" r="1.75"/>
<circle cx="343.8" cy="381.0" r="1.75"/>
<circle cx="342.3" cy="383.8" r="1.75"/>
<circle cx="345.8" cy="385.4" r="1.75"/>
<circle cx="342.9" cy="391.2" r="1.75"/>
<circle cx="344.4" cy="394.4" r="1.75"/>
<circle cx="339.0" cy="401.2" r="1.75"/>
<circle cx="343.8" cy="402.1" r="1.75"/>
<circle cx="345.8" cy="404.0" r="1.75"/>
<circle cx="428.7" cy="258.8" r="1.75"/>
<circle cx="429.8" cy="277.3" r="1.75"/>
<circle cx="427.5" cy="287.3" r="1.75"/>
<circle cx="426.9" cy="289.6" r="1.75"/>
<circle cx="431.3" cy="293.1" r="1.75"/>
<circle cx="431.7" cy="295.4" r="1.75"/>
<circle cx="424.6" cy="304.0" r="1.75"/>
<circle cx="433.1" cy="314.2" r="1.75"/>
<circle cx="427.9" cy="316.5" r="1.75"/>
<circle cx="431.2" cy="316.7" r="1.75"/>
<circle cx="428.5" cy="321.0" r="1.75"/>
<circle cx="425.2" cy="326.3" r="1.75"/>
<circle cx="431.3" cy="328.7" r="1.75"/>
<circle cx="430.2" cy="330.2" r="1.75"/>
<circle cx="429.8" cy="334.8" r="1.75"/>
<circle cx="428.5" cy="338.7" r="1.75"/>
<circle cx="435.4" cy="340.0" r="1.75"/>
<circle cx="432.1" cy="343.1" r="1.75"/>
<circle cx="430.8" cy="348.8" r="1.75"/>
<circle cx="426.0" cy="350.2" r="1.75"/>
<circle cx="428.8" cy="350.8" r="1.75"/>
<circle cx="424.0" cy="353.5" r="1.75"/>
<circle cx="434.2" cy="353.5" r="1.75"/>
<circle cx="428.5" cy="355.6" r="1.75"/>
<circle cx="431.7" cy="358.5" r="1.75"/>
<circle cx="434.2" cy="358.8" r="1.75"/>
<circle cx="430.8" cy="360.8" r="1.75"/>
<circle cx="426.0" cy="362.7" r="1.75"/>
<circle cx="424.0" cy="365.6" r="1.75"/>
<circle cx="430.8" cy="365.2" r="1.75"/>
<circle cx="433.1" cy="366.5" r="1.75"/>
<circle cx="431.7" cy="369.4" r="1.75"/>
<circle cx="426.9" cy="372.7" r="1.75"/>
<circle cx="428.8" cy="375.2" r="1.75"/>
<circle cx="432.3" cy="376.2" r="1.75"/>
<circle cx="424.0" cy="379.4" r="1.75"/>
<circle cx="431.7" cy="379.6" r="1.75"/>
<circle cx="429.2" cy="384.2" r="1.75"/>
<circle cx="434.6" cy="385.8" r="1.75"/>
<circle cx="428.5" cy="387.3" r="1.75"/>
<circle cx="428.8" cy="391.9" r="1.75"/>
<circle cx="428.5" cy="401.2" r="1.75"/>
</g>
<g fill="#2f4495" stroke="#0c1432" stroke-width="1.25">
<circle cx="131.3" cy="354.6" r="1.75"/>
<circle cx="131.9" cy="367.3" r="1.75"/>
<circle cx="129.2" cy="375.8" r="1.75"/>
<circle cx="130.2" cy="378.3" r="1.75"/>
<circle cx="127.7" cy="380.6" r="1.75"/>
<circle cx="128.8" cy="382.1" r="1.75"/>
<circle cx="130.6" cy="387.5" r="1.75"/>
<circle cx="135.0" cy="386.7" r="1.75"/>
<circle cx="132.9" cy="393.1" r="1.75"/>
<circle cx="131.3" cy="396.3" r="1.75"/>
<circle cx="134.6" cy="403.5" r="1.75"/>
<circle cx="128.8" cy="407.7" r="1.75"/>
<circle cx="126.3" cy="409.4" r="1.75"/>
<circle cx="136.5" cy="409.6" r="1.75"/>
<circle cx="216.3" cy="345.8" r="1.75"/>
<circle cx="211.5" cy="350.4" r="1.75"/>
<circle cx="214.8" cy="356.2" r="1.75"/>
<circle cx="216.9" cy="361.9" r="1.75"/>
<circle cx="214.6" cy="373.1" r="1.75"/>
<circle cx="214.2" cy="380.2" r="1.75"/>
<circle cx="215.8" cy="382.1" r="1.75"/>
<circle cx="217.1" cy="384.6" r="1.75"/>
<circle cx="208.8" cy="386.5" r="1.75"/>
<circle cx="212.3" cy="391.3" r="1.75"/>
<circle cx="220.6" cy="393.8" r="1.75"/>
<circle cx="210.0" cy="395.6" r="1.75"/>
<circle cx="213.8" cy="396.5" r="1.75"/>
<circle cx="217.5" cy="407.5" r="1.75"/>
<circle cx="217.3" cy="413.8" r="1.75"/>
<circle cx="297.3" cy="350.6" r="1.75"/>
<circle cx="304.4" cy="353.1" r="1.75"/>
<circle cx="301.5" cy="354.0" r="1.75"/>
<circle cx="300.2" cy="356.3" r="1.75"/>
<circle cx="296.3" cy="358.7" r="1.75"/>
<circle cx="299.6" cy="364.4" r="1.75"/>
<circle cx="296.3" cy="367.5" r="1.75"/>
<circle cx="304.0" cy="371.7" r="1.75"/>
<circle cx="300.4" cy="375.6" r="1.75"/>
<circle cx="299.2" cy="378.8" r="1.75"/>
<circle cx="298.8" cy="380.4" r="1.75"/>
<circle cx="294.8" cy="385.2" r="1.75"/>
<circle cx="301.5" cy="390.0" r="1.75"/>
<circle cx="296.3" cy="391.0" r="1.75"/>
<circle cx="300.2" cy="392.5" r="1.75"/>
<circle cx="296.0" cy="391.9" r="1.75"/>
<circle cx="387.7" cy="294.2" r="1.75"/>
<circle cx="388.1" cy="299.8" r="1.75"/>
<circle cx="383.7" cy="302.7" r="1.75"/>
<circle cx="388.7" cy="307.5" r="1.75"/>
<circle cx="387.3" cy="322.3" r="1.75"/>
<circle cx="382.1" cy="330.6" r="1.75"/>
<circle cx="379.8" cy="334.8" r="1.75"/>
<circle cx="383.3" cy="334.8" r="1.75"/>
<circle cx="383.3" cy="345.4" r="1.75"/>
<circle cx="386.5" cy="345.4" r="1.75"/>
<circle cx="377.5" cy="348.8" r="1.75"/>
<circle cx="380.8" cy="350.6" r="1.75"/>
<circle cx="383.8" cy="352.1" r="1.75"/>
<circle cx="386.2" cy="355.4" r="1.75"/>
<circle cx="382.7" cy="358.5" r="1.75"/>
<circle cx="381.7" cy="361.2" r="1.75"/>
<circle cx="385.2" cy="362.7" r="1.75"/>
<circle cx="382.3" cy="365.0" r="1.75"/>
<circle cx="385.8" cy="365.6" r="1.75"/>
<circle cx="381.3" cy="368.5" r="1.75"/>
<circle cx="384.2" cy="370.4" r="1.75"/>
<circle cx="392.3" cy="371.3" r="1.75"/>
<circle cx="382.3" cy="372.7" r="1.75"/>
<circle cx="389.0" cy="374.2" r="1.75"/>
<circle cx="380.4" cy="375.2" r="1.75"/>
<circle cx="386.5" cy="375.6" r="1.75"/>
<circle cx="387.1" cy="378.1" r="1.75"/>
<circle cx="381.7" cy="380.4" r="1.75"/>
<circle cx="384.6" cy="384.8" r="1.75"/>
<circle cx="384.2" cy="387.7" r="1.75"/>
<circle cx="388.1" cy="388.7" r="1.75"/>
<circle cx="390.4" cy="389.2" r="1.75"/>
<circle cx="384.2" cy="390.0" r="1.75"/>
<circle cx="378.1" cy="402.5" r="1.75"/>
<circle cx="387.7" cy="408.5" r="1.75"/>
<circle cx="384.6" cy="409.8" r="1.75"/>
<circle cx="382.7" cy="413.1" r="1.75"/>
<circle cx="385.8" cy="415.6" r="1.75"/>
<circle cx="466.5" cy="294.2" r="1.75"/>
<circle cx="469.6" cy="299.0" r="1.75"/>
<circle cx="473.3" cy="304.0" r="1.75"/>
<circle cx="469.8" cy="304.8" r="1.75"/>
<circle cx="471.9" cy="322.1" r="1.75"/>
<circle cx="471.5" cy="339.6" r="1.75"/>
<circle cx="469.2" cy="342.1" r="1.75"/>
<circle cx="466.3" cy="344.0" r="1.75"/>
<circle cx="469.2" cy="346.9" r="1.75"/>
<circle cx="472.5" cy="349.2" r="1.75"/>
<circle cx="467.3" cy="350.2" r="1.75"/>
<circle cx="462.5" cy="351.2" r="1.75"/>
<circle cx="470.2" cy="352.7" r="1.75"/>
<circle cx="465.4" cy="353.7" r="1.75"/>
<circle cx="463.5" cy="355.6" r="1.75"/>
<circle cx="467.7" cy="356.2" r="1.75"/>
<circle cx="471.5" cy="357.5" r="1.75"/>
<circle cx="469.2" cy="359.4" r="1.75"/>
<circle cx="472.5" cy="361.2" r="1.75"/>
<circle cx="473.1" cy="365.6" r="1.75"/>
<circle cx="466.9" cy="366.5" r="1.75"/>
<circle cx="466.0" cy="369.4" r="1.75"/>
<circle cx="469.6" cy="373.3" r="1.75"/>
<circle cx="467.3" cy="374.6" r="1.75"/>
<circle cx="474.6" cy="375.6" r="1.75"/>
<circle cx="471.5" cy="376.2" r="1.75"/>
<circle cx="463.5" cy="379.0" r="1.75"/>
<circle cx="469.6" cy="378.1" r="1.75"/>
<circle cx="466.3" cy="381.5" r="1.75"/>
<circle cx="470.8" cy="381.0" r="1.75"/>
<circle cx="464.4" cy="383.8" r="1.75"/>
<circle cx="468.3" cy="386.7" r="1.75"/>
<circle cx="471.2" cy="387.7" r="1.75"/>
<circle cx="465.4" cy="390.6" r="1.75"/>
<circle cx="463.8" cy="391.9" r="1.75"/>
<circle cx="470.2" cy="391.2" r="1.75"/>
<circle cx="471.5" cy="394.4" r="1.75"/>
<circle cx="468.8" cy="397.3" r="1.75"/>
<circle cx="468.8" cy="403.1" r="1.75"/>
<circle cx="470.8" cy="405.0" r="1.75"/>
</g>
<path d="M113.0 386.2H149.0" stroke="#5c5c5c" stroke-width="0.9" opacity="0.85"/>
<path d="M197.9 382.9H233.1" stroke="#5c5c5c" stroke-width="0.9" opacity="0.85"/>
<path d="M280.6 371.7H316.5" stroke="#5c5c5c" stroke-width="0.9" opacity="0.85"/>
<path d="M366.5 363.1H402.5" stroke="#5c5c5c" stroke-width="0.9" opacity="0.85"/>
<path d="M451.3 365.2H487.5" stroke="#5c5c5c" stroke-width="0.9" opacity="0.85"/>
</g>
<g id="panelD">
<text x="0.5" y="464" font-size="11" text-anchor="start" fill="#111" stroke="#111" font-weight="bold" >d</text>
<text x="14.5" y="482.5" font-size="12" text-anchor="start" fill="#222" stroke="#222" font-weight="normal"  textLength="117.5" lengthAdjust="spacingAndGlyphs">cell migrating through</text>
<text x="175" y="482.5" font-size="12" text-anchor="start" fill="#222" stroke="#222" font-weight="normal"  textLength="48" lengthAdjust="spacingAndGlyphs">cell stuck</text>
<clipPath id="cl0"><rect x="14" y="487.5" width="115.5" height="38.5"/></clipPath>
<clipPath id="cr0"><rect x="135.3" y="487.5" width="114.19999999999999" height="38.5"/></clipPath>
<rect x="14" y="487.5" width="115.5" height="38.5" fill="url(#lbg)"/>
<g clip-path="url(#cl0)">
<rect x="17.6" y="489.5" width="1.6" height="35.5" fill="#1f8f4c" opacity="0.28" filter="url(#b2)"/>
<ellipse cx="18.3" cy="504.0" rx="1.5" ry="3" fill="#2fb566" opacity="0.5" filter="url(#b2)"/>
<rect x="18" y="502.1" width="13" height="1.8" fill="url(#gfade)" opacity="0.35" filter="url(#b1)"/>
</g>
<text x="106.2" y="497" font-size="10.9" text-anchor="start" fill="#f4f4f4" stroke="#f4f4f4" font-weight="normal"  textLength="21.8" lengthAdjust="spacingAndGlyphs">t = 0</text>
<rect x="135.3" y="487.5" width="114.19999999999999" height="38.5" fill="url(#rbg)"/>
<g clip-path="url(#cr0)">
<rect x="135.3" y="504.2" width="114.19999999999999" height="22.8" fill="#123a16" opacity="0.13" filter="url(#b2)"/>
<rect x="140.3" y="502.4" width="19.69999999999999" height="1.6" fill="url(#rfade)" opacity="0.5" filter="url(#b1)"/>
<rect x="135.3" y="487.5" width="7.5" height="38.5" fill="#6ab030" filter="url(#b4)"/>
<rect x="135.5" y="487.5" width="7" height="12.7" fill="#efe020" filter="url(#b4)"/>
<rect x="138" y="500.2" width="5" height="7.7" fill="#3fa838" filter="url(#b4)"/>
<rect x="135.5" y="508.7" width="6.5" height="17.3" fill="#c8dc28" filter="url(#b4)"/>
</g>
<text x="225.2" y="498" font-size="10.9" text-anchor="start" fill="#f4f4f4" stroke="#f4f4f4" font-weight="normal"  textLength="21.8" lengthAdjust="spacingAndGlyphs">t = 0</text>
<clipPath id="cl1"><rect x="14" y="528.7" width="115.5" height="38.299999999999955"/></clipPath>
<clipPath id="cr1"><rect x="135.3" y="528.7" width="114.19999999999999" height="38.299999999999955"/></clipPath>
<rect x="14" y="528.7" width="115.5" height="38.299999999999955" fill="url(#lbg)"/>
<g clip-path="url(#cl1)">
<rect x="17.6" y="530.7" width="1.6" height="35.299999999999955" fill="#1f8f4c" opacity="0.33" filter="url(#b2)"/>
<ellipse cx="18.3" cy="546.0" rx="1.5" ry="5" fill="#2fb566" opacity="0.6" filter="url(#b2)"/>
<rect x="18.5" y="544.1" width="27.5" height="1.8" fill="url(#gfade)" opacity="0.5" filter="url(#b1)"/>
</g>
<text x="79.5" y="538.3" font-size="10.9" text-anchor="start" fill="#f4f4f4" stroke="#f4f4f4" font-weight="normal"  textLength="48.5" lengthAdjust="spacingAndGlyphs">t = 80 min</text>
<rect x="135.3" y="528.7" width="114.19999999999999" height="38.299999999999955" fill="url(#rbg)"/>
<g clip-path="url(#cr1)">
<rect x="135.3" y="546.3" width="114.19999999999999" height="21.7" fill="#123a16" opacity="0.13" filter="url(#b2)"/>
<rect x="140.3" y="544.5" width="27.69999999999999" height="1.6" fill="url(#rfade)" opacity="0.7" filter="url(#b1)"/>
<rect x="135.3" y="528.7" width="6" height="38.3" fill="#5aa030" filter="url(#b4)"/>
<rect x="135.5" y="528.7" width="4.5" height="8.4" fill="#e8d828" filter="url(#b4)"/>
<rect x="135.5" y="540.2" width="3" height="7.7" fill="#e08a28" filter="url(#b4)"/>
<rect x="137" y="545.9" width="4" height="7.7" fill="#48a838" filter="url(#b4)"/>
<rect x="135.5" y="553.6" width="5" height="11.5" fill="#c8d030" filter="url(#b4)"/>
</g>
<text x="199.5" y="538.3" font-size="10.9" text-anchor="start" fill="#f4f4f4" stroke="#f4f4f4" font-weight="normal"  textLength="48.5" lengthAdjust="spacingAndGlyphs">t = 80 min</text>
<clipPath id="cl2"><rect x="14" y="570.5" width="115.5" height="38.200000000000045"/></clipPath>
<clipPath id="cr2"><rect x="135.3" y="570.5" width="114.19999999999999" height="38.200000000000045"/></clipPath>
<rect x="14" y="570.5" width="115.5" height="38.200000000000045" fill="url(#lbg)"/>
<g clip-path="url(#cl2)">
<rect x="17.6" y="572.5" width="1.6" height="35.200000000000045" fill="#1f8f4c" opacity="0.39" filter="url(#b2)"/>
<ellipse cx="18.3" cy="588.0" rx="1.5" ry="5" fill="#2fb566" opacity="0.7" filter="url(#b2)"/>
<rect x="18" y="586.1" width="46" height="1.8" fill="url(#gfade)" opacity="0.8" filter="url(#b1)"/>
</g>
<text x="73.7" y="579.3" font-size="10.9" text-anchor="start" fill="#f4f4f4" stroke="#f4f4f4" font-weight="normal"  textLength="54.3" lengthAdjust="spacingAndGlyphs">t = 160 min</text>
<rect x="135.3" y="570.5" width="114.19999999999999" height="38.200000000000045" fill="url(#rbg)"/>
<g clip-path="url(#cr2)">
<rect x="135.3" y="588.2" width="114.19999999999999" height="21.5" fill="#123a16" opacity="0.13" filter="url(#b2)"/>
<rect x="140.3" y="586.4" width="55.69999999999999" height="1.6" fill="url(#rfade)" opacity="0.65" filter="url(#b1)"/>
<rect x="135.3" y="570.5" width="4" height="38.2" fill="#7a8a28" filter="url(#b4)"/>
<rect x="135.5" y="570.5" width="4" height="6.9" fill="#e8a020" filter="url(#b4)"/>
<rect x="136" y="583.9" width="4" height="7.6" fill="#c8c030" filter="url(#b4)"/>
</g>
<text x="193.7" y="579.3" font-size="10.9" text-anchor="start" fill="#f4f4f4" stroke="#f4f4f4" font-weight="normal"  textLength="54.3" lengthAdjust="spacingAndGlyphs">t = 160 min</text>
<clipPath id="cl3"><rect x="14" y="612" width="115.5" height="38.200000000000045"/></clipPath>
<clipPath id="cr3"><rect x="135.3" y="612" width="114.19999999999999" height="38.200000000000045"/></clipPath>
<rect x="14" y="612" width="115.5" height="38.200000000000045" fill="url(#lbg)"/>
<g clip-path="url(#cl3)">
<rect x="17.6" y="614" width="1.6" height="35.200000000000045" fill="#1f8f4c" opacity="0.33" filter="url(#b2)"/>
<ellipse cx="18.3" cy="629.5" rx="1.5" ry="4.5" fill="#2fb566" opacity="0.6" filter="url(#b2)"/>
<rect x="18" y="627.6" width="62" height="1.8" fill="url(#gfade)" opacity="0.8" filter="url(#b1)"/>
</g>
<text x="73.7" y="621.3" font-size="10.9" text-anchor="start" fill="#f4f4f4" stroke="#f4f4f4" font-weight="normal"  textLength="54.3" lengthAdjust="spacingAndGlyphs">t = 240 min</text>
<rect x="135.3" y="612" width="114.19999999999999" height="38.200000000000045" fill="url(#rbg)"/>
<g clip-path="url(#cr3)">
<rect x="135.3" y="629.3" width="114.19999999999999" height="21.9" fill="#123a16" opacity="0.13" filter="url(#b2)"/>
<rect x="140.3" y="627.5" width="67.69999999999999" height="1.6" fill="url(#rfade)" opacity="0.65" filter="url(#b1)"/>
<rect x="135.3" y="612.0" width="6" height="12.2" fill="#3aa040" filter="url(#b4)"/>
<rect x="135.3" y="624.2" width="6" height="26.0" fill="#d89030" filter="url(#b4)"/>
<rect x="136" y="627.3" width="4" height="11.5" fill="#e8b030" filter="url(#b4)"/>
</g>
<text x="193.7" y="620.8" font-size="10.9" text-anchor="start" fill="#f4f4f4" stroke="#f4f4f4" font-weight="normal"  textLength="54.3" lengthAdjust="spacingAndGlyphs">t = 240 min</text>
<clipPath id="cl4"><rect x="14" y="654.5" width="115.5" height="37.799999999999955"/></clipPath>
<clipPath id="cr4"><rect x="135.3" y="654.5" width="114.19999999999999" height="37.799999999999955"/></clipPath>
<rect x="14" y="654.5" width="115.5" height="37.799999999999955" fill="url(#lbg)"/>
<g clip-path="url(#cl4)">
<rect x="17.6" y="656.5" width="1.6" height="34.799999999999955" fill="#1f8f4c" opacity="0.14" filter="url(#b2)"/>
<rect x="21.5" y="671.4" width="64.5" height="2" fill="url(#gfade2)" opacity="0.75" filter="url(#b1)" transform="rotate(0.7 21.5 672.4)"/>
</g>
<text x="70.0" y="664.5" font-size="10.9" text-anchor="start" fill="#f4f4f4" stroke="#f4f4f4" font-weight="normal"  textLength="54.3" lengthAdjust="spacingAndGlyphs">t = 320 min</text>
<rect x="135.3" y="654.5" width="114.19999999999999" height="37.799999999999955" fill="url(#rbg)"/>
<g clip-path="url(#cr4)">
<rect x="135.3" y="674.5" width="114.19999999999999" height="18.8" fill="#123a16" opacity="0.13" filter="url(#b2)"/>
<rect x="140.3" y="672.7" width="89.69999999999999" height="1.6" fill="url(#rfade)" opacity="0.6" filter="url(#b1)"/>
<rect x="135.3" y="654.5" width="6" height="9.4" fill="#5aa838" filter="url(#b4)"/>
<rect x="135.5" y="662.8" width="6.5" height="18.9" fill="#ecd820" filter="url(#b4)"/>
<rect x="135.5" y="681.0" width="5.5" height="11.3" fill="#e09020" filter="url(#b4)"/>
</g>
<text x="193.2" y="664.5" font-size="10.9" text-anchor="start" fill="#f4f4f4" stroke="#f4f4f4" font-weight="normal"  textLength="54.3" lengthAdjust="spacingAndGlyphs">t = 320 min</text>
<clipPath id="cl5"><rect x="14" y="696" width="115.5" height="37.700000000000045"/></clipPath>
<clipPath id="cr5"><rect x="135.3" y="696" width="114.19999999999999" height="37.700000000000045"/></clipPath>
<rect x="14" y="696" width="115.5" height="37.700000000000045" fill="url(#lbg)"/>
<g clip-path="url(#cl5)">
<rect x="17.6" y="698" width="1.6" height="34.700000000000045" fill="#1f8f4c" opacity="0.11" filter="url(#b2)"/>
<rect x="48" y="713.8" width="69" height="2" fill="url(#gfade2)" opacity="0.75" filter="url(#b1)" transform="rotate(0.7 48 714.8)"/>
</g>
<text x="70.0" y="705.5" font-size="10.9" text-anchor="start" fill="#f4f4f4" stroke="#f4f4f4" font-weight="normal"  textLength="54.3" lengthAdjust="spacingAndGlyphs">t = 400 min</text>
<rect x="135.3" y="696" width="114.19999999999999" height="37.700000000000045" fill="url(#rbg)"/>
<g clip-path="url(#cr5)">
<rect x="135.3" y="716.0" width="114.19999999999999" height="18.7" fill="#123a16" opacity="0.13" filter="url(#b2)"/>
<rect x="140.3" y="714.2" width="101.69999999999999" height="1.6" fill="url(#rfade)" opacity="0.55" filter="url(#b1)"/>
<rect x="136" y="697.9" width="3.5" height="11.3" fill="#8a6a20" filter="url(#b4)"/>
<rect x="135.3" y="707.3" width="8" height="13.2" fill="#f0e020" filter="url(#b4)"/>
<rect x="137" y="721.6" width="3" height="12.1" fill="#3a8030" filter="url(#b4)"/>
</g>
<text x="193.2" y="705" font-size="10.9" text-anchor="start" fill="#f4f4f4" stroke="#f4f4f4" font-weight="normal"  textLength="54.3" lengthAdjust="spacingAndGlyphs">t = 400 min</text>
<clipPath id="cl6"><rect x="14" y="737" width="115.5" height="39"/></clipPath>
<clipPath id="cr6"><rect x="135.3" y="737" width="114.19999999999999" height="39"/></clipPath>
<rect x="14" y="737" width="115.5" height="39" fill="url(#lbg)"/>
<g clip-path="url(#cl6)">
<rect x="17.6" y="739" width="1.6" height="36" fill="#1f8f4c" opacity="0.06" filter="url(#b2)"/>
<rect x="56" y="755.8" width="69.5" height="2" fill="url(#gfade2)" opacity="0.75" filter="url(#b1)" transform="rotate(0.7 56 756.8)"/>
</g>
<text x="70.7" y="745.5" font-size="10.9" text-anchor="start" fill="#f4f4f4" stroke="#f4f4f4" font-weight="normal"  textLength="54.3" lengthAdjust="spacingAndGlyphs">t = 480 min</text>
<rect x="135.3" y="737" width="114.19999999999999" height="39" fill="url(#rbg)"/>
<g clip-path="url(#cr6)">
<rect x="135.3" y="757.4" width="114.19999999999999" height="19.6" fill="#123a16" opacity="0.13" filter="url(#b2)"/>
<rect x="140.3" y="755.6" width="97.69999999999999" height="1.6" fill="url(#rfade)" opacity="0.55" filter="url(#b1)"/>
<rect x="137" y="737.0" width="4" height="14.0" fill="#2a9a70" filter="url(#b4)"/>
<rect x="135.3" y="751.0" width="5" height="25.0" fill="#d87020" filter="url(#b4)"/>
<rect x="136.5" y="753.4" width="6" height="19.5" fill="#f4e418" filter="url(#b4)"/>
</g>
<text x="193.2" y="745.5" font-size="10.9" text-anchor="start" fill="#f4f4f4" stroke="#f4f4f4" font-weight="normal"  textLength="54.3" lengthAdjust="spacingAndGlyphs">t = 480 min</text>
<text x="15.5" y="747.5" font-size="10.9" text-anchor="start" fill="#c43a2c" stroke="#c43a2c" font-weight="normal"  textLength="8.8" lengthAdjust="spacingAndGlyphs">PI</text>
<text x="16.2" y="772.5" font-size="10.9" text-anchor="start" fill="#1f8a58" stroke="#1f8a58" font-weight="normal"  textLength="50.8" lengthAdjust="spacingAndGlyphs">MscL G22S</text>
<rect x="235" y="768.7" width="8.2" height="2.6" fill="#fff"/>
</g>
<g id="panelE">
<text x="255.2" y="464.6" font-size="11" text-anchor="start" fill="#111" stroke="#111" font-weight="bold" >e</text>
<path d="M307.5 500V734.7H495" stroke="#111" stroke-width="1.3" fill="none"/>
<path d="M303.5 734.70H307.5" stroke="#111" stroke-width="1.1"/>
<text font-size="11.6" fill="#333" stroke="#333" textLength="6.4" lengthAdjust="spacingAndGlyphs" transform="translate(297.8 738.70) rotate(-90)">0</text>
<path d="M304.9 713.39H307.5" stroke="#111" stroke-width="1.1"/>
<path d="M303.5 692.08H307.5" stroke="#111" stroke-width="1.1"/>
<text font-size="11.6" fill="#333" stroke="#333" textLength="15.4" lengthAdjust="spacingAndGlyphs" transform="translate(297.8 700.58) rotate(-90)">0.2</text>
<path d="M304.9 670.77H307.5" stroke="#111" stroke-width="1.1"/>
<path d="M303.5 649.46H307.5" stroke="#111" stroke-width="1.1"/>
<text font-size="11.6" fill="#333" stroke="#333" textLength="15.4" lengthAdjust="spacingAndGlyphs" transform="translate(297.8 657.96) rotate(-90)">0.4</text>
<path d="M304.9 628.15H307.5" stroke="#111" stroke-width="1.1"/>
<path d="M303.5 606.84H307.5" stroke="#111" stroke-width="1.1"/>
<text font-size="11.6" fill="#333" stroke="#333" textLength="15.4" lengthAdjust="spacingAndGlyphs" transform="translate(297.8 615.34) rotate(-90)">0.6</text>
<path d="M304.9 585.53H307.5" stroke="#111" stroke-width="1.1"/>
<path d="M303.5 564.22H307.5" stroke="#111" stroke-width="1.1"/>
<text font-size="11.6" fill="#333" stroke="#333" textLength="15.4" lengthAdjust="spacingAndGlyphs" transform="translate(297.8 572.72) rotate(-90)">0.8</text>
<path d="M304.9 542.91H307.5" stroke="#111" stroke-width="1.1"/>
<path d="M303.5 521.60H307.5" stroke="#111" stroke-width="1.1"/>
<text font-size="11.6" fill="#333" stroke="#333" textLength="15.4" lengthAdjust="spacingAndGlyphs" transform="translate(297.8 530.10) rotate(-90)">1.0</text>
<path d="M400.5 732.7v4" stroke="#111" stroke-width="1.2"/>
<rect x="330" y="663" width="48.5" height="71.70000000000005" fill="#a9a8a8" stroke="#111" stroke-width="1.2"/>
<rect x="422" y="624.7" width="48.5" height="110.0" fill="#8d93cb" stroke="#111" stroke-width="1.2"/>
<path d="M354.3 652.3V674M352.3 652.3H356.3M352.3 674H356.3" stroke="#111" stroke-width="1.1" fill="none"/>
<path d="M446.7 609.3V641M444.7 609.3H448.7M444.7 641H448.7" stroke="#111" stroke-width="1.1" fill="none"/>
<path d="M352.5 526.3H448" stroke="#111" stroke-width="1.6"/>
<text x="401.8" y="525.6" font-size="17" text-anchor="middle" fill="#222" stroke="#222" font-weight="normal" >*</text>
<text x="343.8" y="554.2" font-size="10.8" text-anchor="start" fill="#444" stroke="#444" font-weight="normal"  textLength="19.3" lengthAdjust="spacingAndGlyphs">(84)</text>
<text x="436.3" y="554.2" font-size="10.8" text-anchor="start" fill="#444" stroke="#444" font-weight="normal"  textLength="20" lengthAdjust="spacingAndGlyphs">(43)</text>
<text x="328" y="756" font-size="11.1" text-anchor="start" fill="#222" stroke="#222" font-weight="normal"  textLength="42" lengthAdjust="spacingAndGlyphs">no MscL</text>
<text x="417" y="756" font-size="11.1" text-anchor="start" fill="#222" stroke="#222" font-weight="normal"  textLength="57.3" lengthAdjust="spacingAndGlyphs">MscL G22S</text>
<text font-size="11.4" fill="#333" stroke="#333" textLength="113.5" lengthAdjust="spacingAndGlyphs" transform="translate(278.6 666) rotate(-90)">fraction of stuck cells</text>
</g>
</svg></body></html>
